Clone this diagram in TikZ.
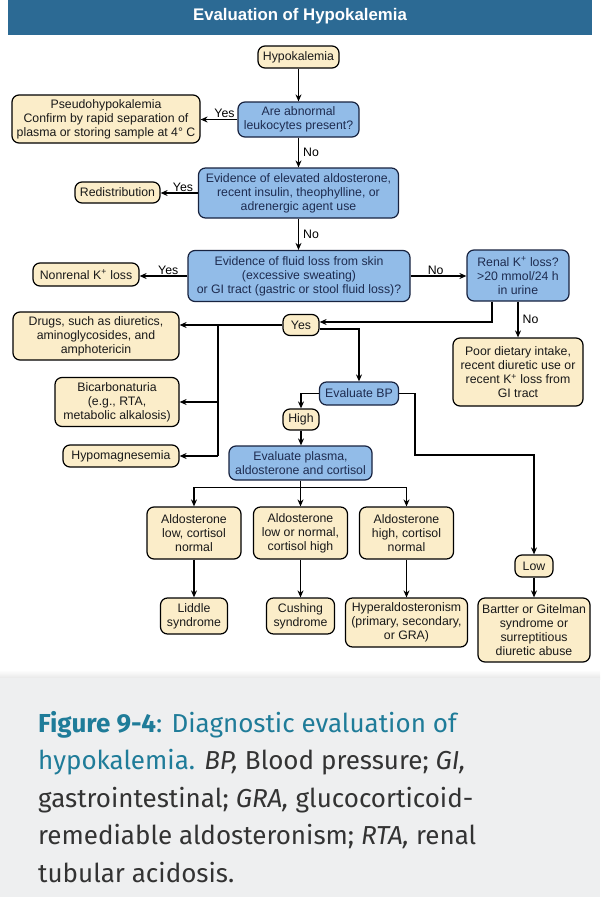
\documentclass[tikz,border=0pt]{standalone}
\usepackage{fontspec}
\setmainfont{Liberation Sans}
\newfontfamily\capfont{Fira Sans}
\usetikzlibrary{arrows.meta,calc}
\definecolor{beige}{HTML}{FBEDC9}
\definecolor{bluebox}{HTML}{92BCE8}
\definecolor{bluetext}{HTML}{1E2C50}
\definecolor{titleblue}{HTML}{2C6A94}
\definecolor{capbg}{HTML}{EEEFF0}
\definecolor{capteal}{HTML}{1F7C99}
\definecolor{capgray}{HTML}{333333}
\begin{document}
\begin{tikzpicture}[x=1pt,y=-1pt,
  box/.style={draw=black, line width=1.2pt, rounded corners=7pt, align=center, inner sep=1pt,
    font=\fontsize{12.3}{14}\selectfont},
  tan/.style={box, fill=beige, text=black!90},
  blu/.style={box, fill=bluebox, draw=bluetext!80!black, text=bluetext},
  arr/.style={-{Stealth[length=7pt,width=6pt]}, line width=1.25pt},
  ln/.style={line width=1.25pt},
  lbl/.style={font=\fontsize{12.3}{14}\selectfont, inner sep=1pt}]
\useasboundingbox (0,0) rectangle (600,897);
% backgrounds
\fill[white] (0,0) rectangle (600,897);
\shade[top color=white, bottom color=black!10] (0,670) rectangle (600,679);
\fill[capbg] (0,678) rectangle (600,897);
\fill[titleblue] (8,0) rectangle (592,35);
\node[font=\bfseries\fontsize{16.8}{18}\selectfont, text=white] (title) at (300,16) {Evaluation of Hypokalemia};

% nodes
\node[tan, minimum width=81pt, minimum height=22pt] (hypo) at (298.5,57) {Hypokalemia};
\node[blu, minimum width=121pt, minimum height=35pt] (leuk) at (298.5,119.5) {Are abnormal\\leukocytes present?};
\node[tan, minimum width=188pt, minimum height=48pt] (pseudo) at (106,119) {Pseudohypokalemia\\Confirm by rapid separation of\\plasma or storing sample at 4° C};
\node[blu, minimum width=200pt, minimum height=50pt] (aldo) at (298.5,193) {Evidence of elevated aldosterone,\\recent insulin, theophylline, or\\adrenergic agent use};
\node[tan, minimum width=85pt, minimum height=21pt] (redis) at (117.5,192.5) {Redistribution};
\node[blu, minimum width=222pt, minimum height=51pt] (fluid) at (299,276) {Evidence of fluid loss from skin\\(excessive sweating)\\or GI tract (gastric or stool fluid loss)?};
\node[tan, minimum width=106pt, minimum height=23pt] (nonren) at (86,274.5) {Nonrenal K\textsuperscript{+} loss};
\node[blu, minimum width=102pt, minimum height=51pt] (renal) at (518,275.5) {Renal K\textsuperscript{+} loss?\\>20 mmol/24 h\\in urine};
\node[tan, minimum width=130pt, minimum height=68pt] (poor) at (518,372) {Poor dietary intake,\\recent diuretic use or\\recent K\textsuperscript{+} loss from\\GI tract};
\node[tan, minimum width=36pt, minimum height=21pt] (yes) at (301,325) {Yes};
\node[tan, minimum width=166pt, minimum height=48pt] (drugs) at (96,336) {Drugs, such as diuretics,\\aminoglycosides, and\\amphotericin};
\node[tan, minimum width=124pt, minimum height=49pt] (bicarb) at (117,402) {Bicarbonaturia\\(e.g., RTA,\\metabolic alkalosis)};
\node[tan, minimum width=116pt, minimum height=22pt] (hypomag) at (121,456) {Hypomagnesemia};
\node[blu, minimum width=79pt, minimum height=23pt] (bp) at (359,393.5) {Evaluate BP};
\node[tan, minimum width=36pt, minimum height=21pt] (high) at (301,419.5) {High};
\node[blu, minimum width=143pt, minimum height=34pt] (plasma) at (300.5,463) {Evaluate plasma,\\aldosterone and cortisol};
\node[tan, minimum width=94pt, minimum height=52pt] (ba) at (194,533) {Aldosterone\\low, cortisol\\normal};
\node[tan, minimum width=94pt, minimum height=52pt] (bb) at (300.5,533) {Aldosterone\\low or normal,\\cortisol high};
\node[tan, minimum width=94pt, minimum height=52pt] (bc) at (406.5,533) {Aldosterone\\high, cortisol\\normal};
\node[tan, minimum width=67pt, minimum height=36pt] (liddle) at (194,616) {Liddle\\syndrome};
\node[tan, minimum width=68pt, minimum height=36pt] (cushing) at (300.5,616) {Cushing\\syndrome};
\node[tan, minimum width=122pt, minimum height=49pt] (hyperaldo) at (406.5,622.5) {Hyperaldosteronism\\(primary, secondary,\\or GRA)};
\node[tan, minimum width=38pt, minimum height=22pt] (low) at (534,566) {Low};
\node[tan, minimum width=112pt, minimum height=64pt] (bartter) at (534,630) {Bartter or Gitelman\\syndrome or\\surreptitious\\diuretic abuse};

% connectors
\draw[arr] (hypo.south) -- (hypo.south |- leuk.north);
\draw[arr] (leuk.west) -- node[lbl, above, pos=0.35] {Yes} (leuk.west -| pseudo.east);
\draw[arr] (leuk.south) -- node[lbl, right, xshift=3pt] {No} (leuk.south |- aldo.north);
\draw[arr] (aldo.west) -- node[lbl, above, pos=0.4] {Yes} (aldo.west -| redis.east);
\draw[arr] (aldo.south) -- node[lbl, right, xshift=3pt] {No} (aldo.south |- fluid.north);
\draw[arr] (fluid.west) -- node[lbl, above, pos=0.4] {Yes} (fluid.west -| nonren.east);
\draw[arr] (fluid.east) -- node[lbl, above, pos=0.45] {No} (fluid.east -| renal.west);
\draw[arr] (renal.south -| poor.north) -- node[lbl, right, xshift=3pt] {No} (poor.north);
\coordinate (rk) at (492,0);
\draw[arr] (renal.south -| rk) |- ($(yes.east)+(0,-3)$);
\draw[arr] (yes.west) -- (yes.west -| drugs.east);
\coordinate (vj) at (218,0);
\draw[ln] (yes.west -| vj) -- (hypomag.east -| vj);
\draw[arr] (bicarb.east -| vj) -- (bicarb.east);
\draw[arr] (hypomag.east -| vj) -- (hypomag.east);
\draw[arr] ($(yes.east)+(0,4)$) -| (bp.north);
\draw[arr] (bp.west) -| (high.north);
\draw[arr] (high.south) -- (high.south |- plasma.north);
\coordinate (bpk) at (415,455);
\draw[arr] (bp.east) -| (bpk) -| (low.north);
\draw[arr] (low.south) -- (low.south |- bartter.north);
\draw[ln] (plasma.south) -- ++(0,7) coordinate (pj);
\draw[arr] (pj) -| (ba.north);
\draw[arr] (pj) -| (bc.north);
\draw[arr] (pj) -- (pj |- bb.north);
\draw[arr] (ba.south) -- (ba.south |- liddle.north);
\draw[arr] (bb.south) -- (bb.south |- cushing.north);
\draw[arr] (bc.south) -- (bc.south |- hyperaldo.north);

% caption
\node[anchor=north west, inner sep=0pt, align=left, text=capgray,
  font=\capfont\fontsize{26}{37.5}\selectfont] (cap) at (38,711)
  {\textcolor{capteal}{\textbf{Figure 9-4}: Diagnostic evaluation of}\\
   \textcolor{capteal}{hypokalemia.} \textit{BP,} Blood pressure; \textit{GI,}\\
   gastrointestinal; \textit{GRA,} glucocorticoid-\\
   remediable aldosteronism; \textit{RTA,} renal\\
   tubular acidosis.};
\end{tikzpicture}
\end{document}
